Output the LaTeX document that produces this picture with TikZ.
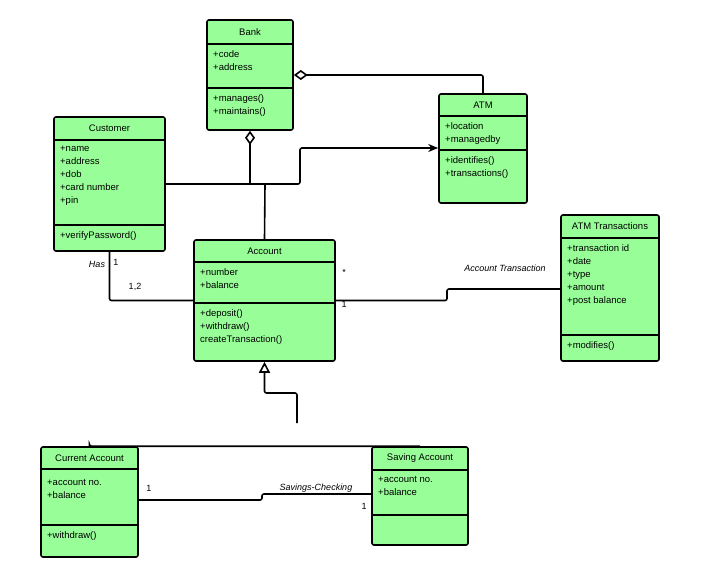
\documentclass[tikz,border=0pt]{standalone}
\usepackage{fontspec}
\setmainfont{Liberation Sans}
\usetikzlibrary{arrows.meta}
\usetikzlibrary{positioning}
\definecolor{boxgreen}{RGB}{152,255,152}
\tikzset{classbox/.style={draw,line width=1.6pt,fill=boxgreen,rounded corners=2pt,inner sep=0pt},
  members/.style={anchor=north west,align=left,inner sep=0pt,font=\fontsize{9.5}{13}\selectfont},
  assoc/.style={line width=1.6pt,rounded corners=2pt},
  lbl/.style={font=\fontsize{9}{11}\selectfont,inner sep=1pt}}
\newcommand{\umlclass}[8]{% name, x1, x2, y1, yA, yB, y2, title
  \node[classbox,minimum width={(#3-#2)*1pt},minimum height={(#7-#4)*1pt}] (#1) at ({(#2+#3)/2},{(#4+#7)/2}) {};
  \draw[line width=1.6pt] (#2,#5) -- (#3,#5);
  \draw[line width=1.6pt] (#2,#6) -- (#3,#6);
  \node[font=\fontsize{9.5}{11}\selectfont] (#1-t) at ({(#2+#3)/2},{(#4+#5)/2}) {#8};
  \coordinate (#1-a) at (#2+6,#5+6);
  \coordinate (#1-o) at (#2+6,#6+6);}
\begin{document}
\begin{tikzpicture}[x=1pt,y=-1pt]
  \useasboundingbox (0,0) rectangle (720,588);
  % classes
  \umlclass{Bank}{207}{293}{20}{44}{88}{130}{Bank}
  \umlclass{ATM}{439}{527}{94}{116}{150}{203}{ATM}
  \umlclass{Customer}{54}{165}{117}{140}{225}{251}{Customer}
  \umlclass{Account}{194}{335}{240}{262}{303}{361}{Account}
  \umlclass{Trans}{561}{659}{215}{238}{335}{361}{ATM Transactions}
  \umlclass{Current}{41}{138}{447}{469}{525}{557}{Current Account}
  \umlclass{Saving}{372}{468}{447}{470}{515}{545}{Saving Account}
  \node[members] at (Bank-a) {+code\\+address};
  \node[members] at (Bank-o) {+manages()\\+maintains()};
  \node[members] at (ATM-a) {+location\\+managedby};
  \node[members] at (ATM-o) {+identifies()\\+transactions()};
  \node[members] at (Customer-a) {+name\\+address\\+dob\\+card number\\+pin};
  \node[members] at (Customer-o) {+verifyPassword()};
  \node[members] at (Account-a) {+number\\+balance};
  \node[members] at (Account-o) {+deposit()\\+withdraw()\\createTransaction()};
  \node[members] at (Trans-a) {+transaction id\\+date\\+type\\+amount\\+post balance};
  \node[members] at (Trans-o) {+modifies()};
  \node[members] at ([yshift=-4pt]Current-a) {+account no.\\+balance};
  \node[members] at (Current-o) {+withdraw()};
  \node[members] at (Saving-a) {+account no.\\+balance};
  % junctions
  \coordinate (j1) at (250,184);
  \coordinate (j2) at (265,184);
  \coordinate (j3) at (300,184);
  \coordinate (j4) at (265,423);
  % connectors
  \draw[assoc,{Diamond[open,length=14pt,width=10pt]}-] (Bank.east |- 0,75) -| (ATM.north);
  \draw[assoc,{Diamond[open,length=14pt,width=10pt]}-] (Bank.south) -- (j1);
  \draw[assoc,-{Stealth[length=10pt,width=8pt]}] (Customer.east) -- (j3) |- (ATM.west |- 0,148);
  \draw[assoc] (Account.north) -- (j2);
  \draw[assoc] (Customer.south) |- (Account.west);
  \draw[assoc] (Account.east) -| (447,289) -- (Trans.west |- 0,289);
  \draw[assoc,{Triangle[open,length=11pt,width=11pt]}-] (Account.south) |- (297,393) -- (297,423);
  \draw[assoc] (Current.north) |- (Saving.north -| 297,423) -- (Saving.north);
  \draw[assoc] (Current.east |- 0,500) -| (262,494) -- (Saving.west |- 0,494);
  % labels
  \node[lbl,font=\fontsize{9}{11}\selectfont\itshape] at (97,264) {Has};
  \node[lbl] at (116,262) {1};
  \node[lbl] at (135,287) {1,2};
  \node[lbl] at (344,272) {*};
  \node[lbl] at (344,304) {1};
  \node[lbl,font=\fontsize{9}{11}\selectfont\itshape] at (505,268) {Account Transaction};
  \node[lbl] at (149,488) {1};
  \node[lbl,font=\fontsize{9}{11}\selectfont\itshape] at (316,488) {Savings-Checking};
  \node[lbl] at (364,506) {1};
\end{tikzpicture}
\end{document}
